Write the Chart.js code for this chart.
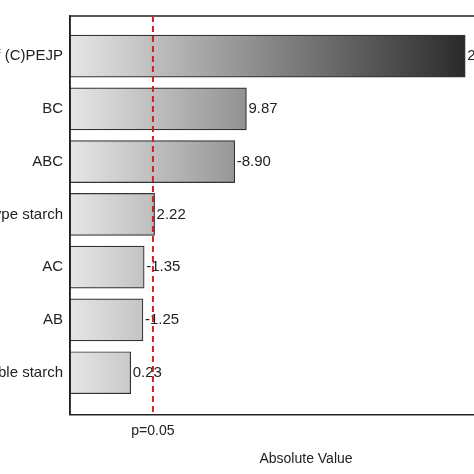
<!DOCTYPE html>
<html>
<head>
<meta charset="utf-8">
<script src="https://cdn.jsdelivr.net/npm/chart.js@4"></script>
<style>
  html, body { margin: 0; padding: 0; background: #fff; overflow: hidden; }
  #wrap { position: relative; width: 474px; height: 474px; overflow: hidden; }
  #box { position: absolute; left: -70px; top: 0; width: 630px; height: 474px; }
</style>
</head>
<body>
<div id="wrap"><div id="box"><canvas id="grafico"></canvas></div></div>
<script>
//--------------------------------------------------
// DADOS
//--------------------------------------------------

const fatores  = ['Content of (C)PEJP', 'BC', 'ABC', 'A-Type starch', 'AC', 'AB', 'B-Soluble starch'];
const efeitos  = [28.1, 9.87, 8.90, 2.22, 1.35, 1.25, 0.23];   // comprimento das barras
const rotulos  = ['28.10', '9.87', '-8.90', '2.22', '-1.35', '-1.25', '0.23'];
const pCritico = 2.08;
const pRotulo  = 'p=0.05';

const xMin = -4.83;
const xMax = 34.5;

//--------------------------------------------------
// PLUGIN: moldura, linha p e rótulos
//--------------------------------------------------

const extras = {
  id: 'extras',
  afterDatasetsDraw(chart) {
    const { ctx, chartArea: a, scales: { x, y } } = chart;
    ctx.save();

    // moldura (topo e esquerda)
    ctx.strokeStyle = '#222';
    ctx.lineWidth = 1.5;
    ctx.beginPath();
    ctx.moveTo(a.left, a.bottom);
    ctx.lineTo(a.left, a.top);
    ctx.lineTo(a.right, a.top);
    ctx.stroke();

    // rótulos dos valores
    ctx.font = '15px "Liberation Sans", Arial, sans-serif';
    ctx.fillStyle = '#222';
    ctx.textBaseline = 'middle';
    efeitos.forEach((v, i) => {
      ctx.fillText(rotulos[i], x.getPixelForValue(v) + 2, y.getPixelForValue(i));
    });

    // linha p=0.05
    const px = x.getPixelForValue(pCritico);
    ctx.strokeStyle = '#cc2222';
    ctx.lineWidth = 2;
    ctx.setLineDash([6, 4]);
    ctx.beginPath();
    ctx.moveTo(px, a.top);
    ctx.lineTo(px, a.bottom);
    ctx.stroke();

    ctx.restore();
  }
};

//--------------------------------------------------
// GRADIENTE
//--------------------------------------------------

function gradiente(context) {
  const chart = context.chart;
  const { ctx, chartArea } = chart;
  if (!chartArea) return '#ccc';
  const x = chart.scales.x;
  const g = ctx.createLinearGradient(chartArea.left, 0, x.getPixelForValue(efeitos[0]), 0);
  g.addColorStop(0, '#e6e6e6');
  g.addColorStop(1, '#2a2a2a');
  return g;
}

//--------------------------------------------------
// GRÁFICO
//--------------------------------------------------

new Chart(document.getElementById('grafico'), {
  type: 'bar',
  data: {
    datasets: [{
      data: efeitos.map((v, i) => ({ x: [xMin, v], y: i })),
      backgroundColor: gradiente,
      borderColor: '#333',
      borderWidth: 1.2,
      borderSkipped: false,
      barThickness: 42
    }]
  },
  options: {
    indexAxis: 'y',
    responsive: true,
    maintainAspectRatio: false,
    animation: false,
    layout: { padding: { top: 13, right: 18, bottom: 2, left: 0 } },
    plugins: { legend: { display: false }, tooltip: { enabled: false } },
    scales: {
      x: {
        type: 'linear',
        min: xMin,
        max: xMax,
        afterBuildTicks: s => { s.ticks = [{ value: pCritico }]; },
        ticks: {
          callback: () => pRotulo,
          color: '#222',
          font: { size: 14, family: '"Liberation Sans", Arial, sans-serif' },
          padding: 4
        },
        grid: { display: false, drawTicks: true, tickLength: 4 },
        border: { color: '#222', width: 1.5 },
        title: {
          display: true,
          text: 'Absolute Value',
          color: '#222',
          font: { size: 14, family: '"Liberation Sans", Arial, sans-serif' },
          padding: { top: 8 }
        }
      },
      y: {
        type: 'linear',
        reverse: true,
        offset: false,
        min: -0.76,
        max: 6.79,
        afterFit: s => { s.width = 140; },
        afterBuildTicks: s => { s.ticks = fatores.map((f, i) => ({ value: i })); },
        ticks: {
          callback: v => fatores[v],
          color: '#222',
          font: { size: 15, family: '"Liberation Sans", Arial, sans-serif' },
          padding: 7
        },
        grid: { display: false, drawTicks: false },
        border: { color: '#222', width: 1.5 }
      }
    }
  },
  plugins: [extras]
});
</script>
</body>
</html>
